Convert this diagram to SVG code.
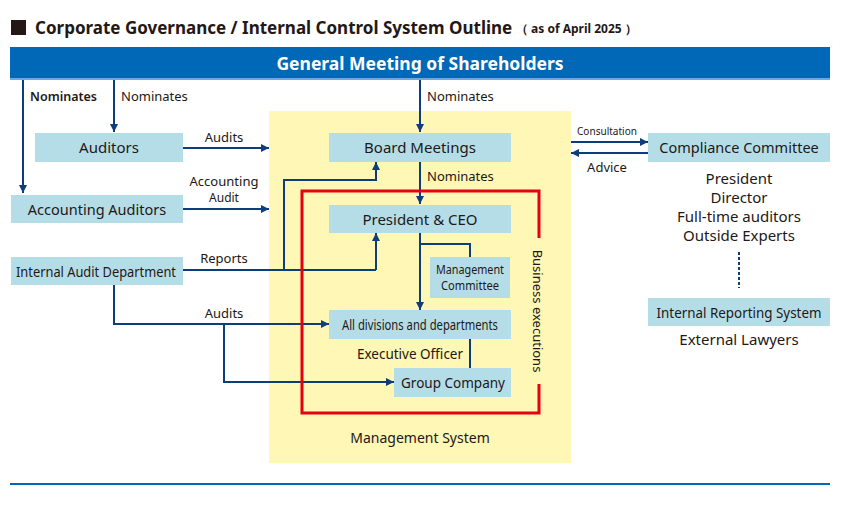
<svg xmlns="http://www.w3.org/2000/svg" width="841" height="515" viewBox="0 0 841 515">
<defs>
<marker id="ah" viewBox="0 0 10 10" refX="10" refY="5" markerWidth="8" markerHeight="8" markerUnits="userSpaceOnUse" orient="auto">
<path d="M0,0 L10,5 L0,10 z" fill="#0e3d7c"/>
</marker>
<style>
text{font-family:"Noto Sans","Open Sans",sans-serif;fill:#231815}
.box{fill:#b5dde8}
.bt{font-size:15px;text-anchor:middle}
.lbl{font-size:13px}
.c{text-anchor:middle}
.ln{fill:none;stroke:#0e3d7c;stroke-width:2}
.ar{marker-end:url(#ah)}
</style>
</defs>
<rect width="841" height="515" fill="#fff"/>
<g id="title">
<rect x="11" y="20" width="15" height="15" fill="#231815"/>
<text x="35" y="34" style="font-size:17px;font-weight:bold">Corporate Governance / Internal Control System Outline</text>
<text x="516" y="33" style="font-size:12px;font-weight:bold">（ as of April 2025 ）</text>
</g>
<rect id="mgmt-area" x="269" y="111" width="302" height="352" fill="#fef7b5"/>
<g id="banner">
<rect x="10" y="47" width="820" height="32" fill="#0068b6"/>
<rect x="10" y="78" width="820" height="2" fill="#6fa8dc"/>
<text x="420" y="70" style="font-size:17.5px;font-weight:bold;fill:#fff;text-anchor:middle">General Meeting of Shareholders</text>
</g>
<g id="connectors">
<path class="ln ar" d="M23,80 V193"/>
<path class="ln ar" d="M114,80 V132"/>
<path class="ln ar" d="M420,80 V132"/>
<path class="ln ar" d="M183,148 H269"/>
<path class="ln ar" d="M183,209 H269"/>
<path class="ln" d="M183,270 H376"/>
<path class="ln ar" d="M284,270 V180 H376 V162"/>
<path class="ln ar" d="M376,270 V233"/>
<path class="ln ar" d="M420,162 V204"/>
<path class="ln ar" d="M420,233 V310"/>
<path class="ln" d="M420,244 H470 V257"/>
<path class="ln" d="M470,339 V368"/>
<path class="ln ar" d="M114,285 V324 H329"/>
<path class="ln ar" d="M224,324 V382 H394"/>
<path class="ln ar" d="M571,142 H648"/>
<path class="ln ar" d="M648,153 H571"/>
<path d="M739,252 V288" fill="none" stroke="#0e3d7c" stroke-width="2" stroke-dasharray="3,2"/>
<path d="M539,238 V191 H302 V413 H539 V384" fill="none" stroke="#e50012" stroke-width="3"/>
</g>
<g id="labels">
<text x="30" y="101" style="font-size:12.5px;font-weight:600">Nominates</text>
<text x="121" y="101" class="lbl">Nominates</text>
<text x="427" y="101" class="lbl">Nominates</text>
<text x="224" y="142" class="lbl c">Audits</text>
<text x="224" y="186" class="c" style="font-size:12px" textLength="69" lengthAdjust="spacingAndGlyphs">Accounting</text>
<text x="224" y="202" class="c" style="font-size:12px">Audit</text>
<text x="224" y="263" class="lbl c">Reports</text>
<text x="224" y="318" class="lbl c">Audits</text>
<text x="427" y="181" class="lbl">Nominates</text>
<text x="410" y="359" class="c" style="font-size:13.5px">Executive Officer</text>
<text x="420" y="443" class="c" style="font-size:14px">Management System</text>
<text x="607" y="135" class="c" style="font-size:10.5px" textLength="60" lengthAdjust="spacingAndGlyphs">Consultation</text>
<text x="607" y="172" class="lbl c">Advice</text>
<text x="0" y="0" class="lbl c" transform="translate(533,311) rotate(90)">Business executions</text>
</g>
<g id="auditors"><rect class="box" x="35" y="133" width="148" height="29"/><text class="bt" x="109" y="153">Auditors</text></g>
<g id="accounting-auditors"><rect class="box" x="11" y="195" width="172" height="28"/><text class="bt" x="97" y="215" style="font-size:14.5px">Accounting Auditors</text></g>
<g id="internal-audit"><rect class="box" x="11" y="257" width="172" height="28"/><text class="bt" x="96" y="277" style="font-size:14px" textLength="160" lengthAdjust="spacingAndGlyphs">Internal Audit Department</text></g>
<g id="board"><rect class="box" x="329" y="133" width="182" height="29"/><text class="bt" x="420" y="153">Board Meetings</text></g>
<g id="president"><rect class="box" x="329" y="205" width="182" height="28"/><text class="bt" x="420" y="225">President &amp; CEO</text></g>
<g id="mgmt-committee"><rect class="box" x="430" y="257" width="80" height="41"/><text x="470" y="274" class="c" style="font-size:12px" textLength="68" lengthAdjust="spacingAndGlyphs">Management</text><text x="470" y="290" class="c" style="font-size:12px" textLength="58" lengthAdjust="spacingAndGlyphs">Committee</text></g>
<g id="divisions"><rect class="box" x="329" y="310" width="182" height="29"/><text class="bt" x="420" y="330" style="font-size:14px" textLength="156" lengthAdjust="spacingAndGlyphs">All divisions and departments</text></g>
<g id="group"><rect class="box" x="394" y="368" width="117" height="29"/><text class="bt" x="453" y="388" style="font-size:14.5px" textLength="104" lengthAdjust="spacingAndGlyphs">Group Company</text></g>
<g id="compliance"><rect class="box" x="648" y="133" width="182" height="29"/><text class="bt" x="739" y="153" style="font-size:14.5px">Compliance Committee</text>
<text x="739" y="184" class="bt">President</text><text x="739" y="203" class="bt">Director</text><text x="739" y="222" class="bt">Full-time auditors</text><text x="739" y="241" class="bt">Outside Experts</text></g>
<g id="reporting"><rect class="box" x="648" y="298" width="182" height="28"/><text class="bt" x="739" y="318" style="font-size:14px" textLength="165" lengthAdjust="spacingAndGlyphs">Internal Reporting System</text><text x="739" y="345" class="bt">External Lawyers</text></g>
<rect id="bottom-rule" x="10" y="483" width="820" height="2" fill="#0068b6"/>
</svg>
